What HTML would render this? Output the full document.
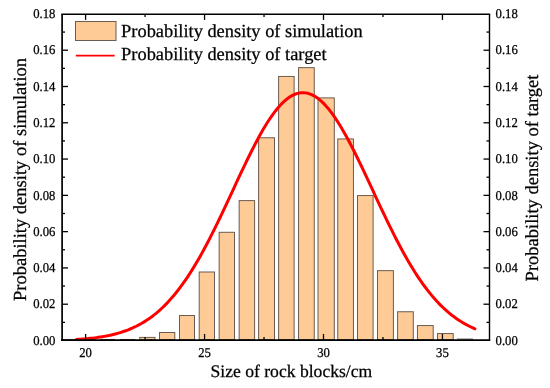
<!DOCTYPE html>
<html><head><meta charset="utf-8"><style>
html,body{margin:0;padding:0;background:#fff;}
svg{display:block;}
text{font-family:"Liberation Serif","Times New Roman",serif;text-rendering:geometricPrecision;fill:#000;stroke:#000;stroke-width:0.25px;}
</style></head><body>
<svg width="550" height="388" viewBox="0 0 550 388">
<rect width="550" height="388" fill="#fff"/>
<g fill="#FECA96" stroke="#6a5c50" stroke-width="1">
<line x1="62.00" y1="339.5" x2="75.51" y2="339.5" stroke-width="1.1"/><line x1="80.26" y1="339.5" x2="95.38" y2="339.5" stroke-width="1.1"/><line x1="100.09" y1="339.5" x2="115.26" y2="339.5" stroke-width="1.1"/><line x1="119.92" y1="339.5" x2="135.13" y2="339.5" stroke-width="1.1"/><line x1="457.00" y1="339.1" x2="472.96" y2="339.1" stroke-width="1.1"/><rect x="139.75" y="337.40" width="15.25" height="2.10"/><rect x="159.50" y="332.50" width="15.30" height="7.00"/><rect x="179.50" y="315.50" width="15.00" height="24.00"/><rect x="199.20" y="272.00" width="15.30" height="67.50"/><rect x="219.15" y="232.30" width="15.35" height="107.20"/><rect x="239.15" y="200.60" width="15.45" height="138.90"/><rect x="258.60" y="137.75" width="15.90" height="201.75"/><rect x="278.60" y="76.45" width="15.51" height="263.05"/><rect x="298.55" y="67.65" width="15.70" height="271.85"/><rect x="318.00" y="97.90" width="16.30" height="241.60"/><rect x="337.75" y="138.95" width="15.70" height="200.55"/><rect x="357.50" y="195.55" width="15.60" height="143.95"/><rect x="377.50" y="270.65" width="15.90" height="68.85"/><rect x="397.60" y="311.75" width="15.70" height="27.75"/><rect x="417.45" y="325.55" width="15.77" height="13.95"/><rect x="437.50" y="333.55" width="15.70" height="5.95"/>
</g>
<path d="M76.40,339.48 L78.39,339.36 L80.39,339.22 L82.38,339.07 L84.37,338.91 L86.36,338.73 L88.36,338.54 L90.35,338.34 L92.34,338.12 L94.33,337.88 L96.33,337.62 L98.32,337.34 L100.31,337.05 L102.30,336.72 L104.30,336.38 L106.29,336.01 L108.28,335.61 L110.27,335.19 L112.27,334.73 L114.26,334.24 L116.25,333.72 L118.24,333.17 L120.24,332.57 L122.23,331.94 L124.22,331.27 L126.21,330.56 L128.21,329.80 L130.20,328.99 L132.19,328.14 L134.18,327.23 L136.18,326.27 L138.17,325.26 L140.16,324.19 L142.15,323.06 L144.15,321.86 L146.14,320.61 L148.13,319.29 L150.12,317.90 L152.12,316.44 L154.11,314.90 L156.10,313.30 L158.09,311.62 L160.09,309.86 L162.08,308.02 L164.07,306.10 L166.06,304.10 L168.06,302.01 L170.05,299.84 L172.04,297.58 L174.03,295.24 L176.03,292.80 L178.02,290.28 L180.01,287.67 L182.00,284.96 L184.00,282.17 L185.99,279.29 L187.98,276.32 L189.97,273.26 L191.97,270.11 L193.96,266.88 L195.95,263.56 L197.94,260.15 L199.94,256.67 L201.93,253.11 L203.92,249.46 L205.91,245.75 L207.91,241.96 L209.90,238.11 L211.89,234.19 L213.88,230.22 L215.88,226.19 L217.87,222.10 L219.86,217.98 L221.85,213.81 L223.84,209.60 L225.84,205.37 L227.83,201.11 L229.82,196.84 L231.81,192.56 L233.81,188.27 L235.80,183.99 L237.79,179.72 L239.78,175.46 L241.78,171.23 L243.77,167.03 L245.76,162.88 L247.75,158.77 L249.75,154.72 L251.74,150.73 L253.73,146.82 L255.72,142.98 L257.72,139.23 L259.71,135.58 L261.70,132.03 L263.69,128.59 L265.69,125.27 L267.68,122.08 L269.67,119.02 L271.66,116.10 L273.66,113.32 L275.65,110.70 L277.64,108.24 L279.63,105.94 L281.63,103.81 L283.62,101.85 L285.61,100.07 L287.61,98.48 L289.60,97.08 L291.59,95.86 L293.58,94.84 L295.58,94.01 L297.57,93.39 L299.56,92.96 L301.55,92.73 L303.55,92.71 L305.54,92.88 L307.53,93.26 L309.52,93.84 L311.51,94.61 L313.51,95.58 L315.50,96.75 L317.49,98.11 L319.49,99.65 L321.48,101.38 L323.47,103.30 L325.46,105.38 L327.46,107.64 L329.45,110.06 L331.44,112.65 L333.43,115.38 L335.42,118.27 L337.42,121.30 L339.41,124.46 L341.40,127.75 L343.39,131.15 L345.39,134.68 L347.38,138.30 L349.37,142.03 L351.37,145.84 L353.36,149.74 L355.35,153.71 L357.34,157.74 L359.34,161.84 L361.33,165.98 L363.32,170.17 L365.31,174.39 L367.30,178.64 L369.30,182.91 L371.29,187.19 L373.28,191.48 L375.27,195.76 L377.27,200.04 L379.26,204.30 L381.25,208.54 L383.25,212.75 L385.24,216.93 L387.23,221.07 L389.22,225.16 L391.22,229.21 L393.21,233.20 L395.20,237.13 L397.19,241.00 L399.19,244.80 L401.18,248.53 L403.17,252.19 L405.16,255.78 L407.15,259.28 L409.15,262.71 L411.14,266.05 L413.13,269.30 L415.12,272.47 L417.12,275.56 L419.11,278.55 L421.10,281.45 L423.10,284.27 L425.09,286.99 L427.08,289.63 L429.07,292.17 L431.07,294.63 L433.06,297.00 L435.05,299.28 L437.04,301.47 L439.03,303.58 L441.03,305.60 L443.02,307.54 L445.01,309.40 L447.00,311.18 L449.00,312.88 L450.99,314.51 L452.98,316.06 L454.98,317.53 L456.97,318.94 L458.96,320.28 L460.95,321.55 L462.95,322.76 L464.94,323.91 L466.93,324.99 L468.92,326.02 L470.91,326.99 L472.91,327.91 L474.90,328.78" fill="none" stroke="#ff0000" stroke-width="3" stroke-linecap="round" stroke-linejoin="round"/>
<g stroke="#000" stroke-width="1.3">
<line x1="62" y1="322.36" x2="65" y2="322.36"/><line x1="489.5" y1="322.36" x2="486.5" y2="322.36"/><line x1="62" y1="304.21" x2="68" y2="304.21"/><line x1="489.5" y1="304.21" x2="483.5" y2="304.21"/><line x1="62" y1="286.07" x2="65" y2="286.07"/><line x1="489.5" y1="286.07" x2="486.5" y2="286.07"/><line x1="62" y1="267.93" x2="68" y2="267.93"/><line x1="489.5" y1="267.93" x2="483.5" y2="267.93"/><line x1="62" y1="249.78" x2="65" y2="249.78"/><line x1="489.5" y1="249.78" x2="486.5" y2="249.78"/><line x1="62" y1="231.64" x2="68" y2="231.64"/><line x1="489.5" y1="231.64" x2="483.5" y2="231.64"/><line x1="62" y1="213.50" x2="65" y2="213.50"/><line x1="489.5" y1="213.50" x2="486.5" y2="213.50"/><line x1="62" y1="195.36" x2="68" y2="195.36"/><line x1="489.5" y1="195.36" x2="483.5" y2="195.36"/><line x1="62" y1="177.21" x2="65" y2="177.21"/><line x1="489.5" y1="177.21" x2="486.5" y2="177.21"/><line x1="62" y1="159.07" x2="68" y2="159.07"/><line x1="489.5" y1="159.07" x2="483.5" y2="159.07"/><line x1="62" y1="140.93" x2="65" y2="140.93"/><line x1="489.5" y1="140.93" x2="486.5" y2="140.93"/><line x1="62" y1="122.78" x2="68" y2="122.78"/><line x1="489.5" y1="122.78" x2="483.5" y2="122.78"/><line x1="62" y1="104.64" x2="65" y2="104.64"/><line x1="489.5" y1="104.64" x2="486.5" y2="104.64"/><line x1="62" y1="86.50" x2="68" y2="86.50"/><line x1="489.5" y1="86.50" x2="483.5" y2="86.50"/><line x1="62" y1="68.36" x2="65" y2="68.36"/><line x1="489.5" y1="68.36" x2="486.5" y2="68.36"/><line x1="62" y1="50.21" x2="68" y2="50.21"/><line x1="489.5" y1="50.21" x2="483.5" y2="50.21"/><line x1="62" y1="32.07" x2="65" y2="32.07"/><line x1="489.5" y1="32.07" x2="486.5" y2="32.07"/><line x1="85.60" y1="340" x2="85.60" y2="334"/><line x1="85.60" y1="14.2" x2="85.60" y2="19.90"/><line x1="145.07" y1="340" x2="145.07" y2="337"/><line x1="145.07" y1="14.2" x2="145.07" y2="16.90"/><line x1="204.55" y1="340" x2="204.55" y2="334"/><line x1="204.55" y1="14.2" x2="204.55" y2="19.90"/><line x1="264.02" y1="340" x2="264.02" y2="337"/><line x1="264.02" y1="14.2" x2="264.02" y2="16.90"/><line x1="323.50" y1="340" x2="323.50" y2="334"/><line x1="323.50" y1="14.2" x2="323.50" y2="19.90"/><line x1="382.98" y1="340" x2="382.98" y2="337"/><line x1="382.98" y1="14.2" x2="382.98" y2="16.90"/><line x1="442.45" y1="340" x2="442.45" y2="334"/><line x1="442.45" y1="14.2" x2="442.45" y2="19.90"/>
</g>
<g stroke="#000" fill="none">
<line x1="62.1" y1="13.9" x2="62.1" y2="340.9" stroke-width="1.7"/>
<line x1="61" y1="340.1" x2="490.2" y2="340.1" stroke-width="1.6"/>
<line x1="61.3" y1="14.25" x2="490.2" y2="14.25" stroke-width="1.4"/>
<line x1="489.5" y1="13.9" x2="489.5" y2="341" stroke-width="1.4"/>
</g>
<g font-size="12.7" style="stroke-width:0.1px">
<text transform="translate(55.4,344.70) scale(1,1.06)" text-anchor="end">0.00</text><text transform="translate(495.6,344.70) scale(1,1.06)">0.00</text><text transform="translate(55.4,308.41) scale(1,1.06)" text-anchor="end">0.02</text><text transform="translate(495.6,308.41) scale(1,1.06)">0.02</text><text transform="translate(55.4,272.13) scale(1,1.06)" text-anchor="end">0.04</text><text transform="translate(495.6,272.13) scale(1,1.06)">0.04</text><text transform="translate(55.4,235.84) scale(1,1.06)" text-anchor="end">0.06</text><text transform="translate(495.6,235.84) scale(1,1.06)">0.06</text><text transform="translate(55.4,199.56) scale(1,1.06)" text-anchor="end">0.08</text><text transform="translate(495.6,199.56) scale(1,1.06)">0.08</text><text transform="translate(55.4,163.27) scale(1,1.06)" text-anchor="end">0.10</text><text transform="translate(495.6,163.27) scale(1,1.06)">0.10</text><text transform="translate(55.4,126.98) scale(1,1.06)" text-anchor="end">0.12</text><text transform="translate(495.6,126.98) scale(1,1.06)">0.12</text><text transform="translate(55.4,90.70) scale(1,1.06)" text-anchor="end">0.14</text><text transform="translate(495.6,90.70) scale(1,1.06)">0.14</text><text transform="translate(55.4,54.41) scale(1,1.06)" text-anchor="end">0.16</text><text transform="translate(495.6,54.41) scale(1,1.06)">0.16</text><text transform="translate(55.4,18.13) scale(1,1.06)" text-anchor="end">0.18</text><text transform="translate(495.6,18.13) scale(1,1.06)">0.18</text><text transform="translate(85.60,357.1) scale(1,1.06)" text-anchor="middle">20</text><text transform="translate(204.55,357.1) scale(1,1.06)" text-anchor="middle">25</text><text transform="translate(323.50,357.1) scale(1,1.06)" text-anchor="middle">30</text><text transform="translate(442.45,357.1) scale(1,1.06)" text-anchor="middle">35</text>
</g>
<rect x="75.5" y="21.5" width="40.5" height="19" fill="#FECA96" stroke="#6a5c50" stroke-width="1"/>
<line x1="75.8" y1="55.7" x2="114.6" y2="55.7" stroke="#ff0000" stroke-width="1.8"/>
<text x="121.1" y="36.8" font-size="18.4">Probability density of simulation</text>
<text x="121.1" y="60.0" font-size="18.4">Probability density of target</text>
<text x="210.5" y="376.5" font-size="17.6">Size of rock blocks/cm</text>
<text transform="translate(26,301) rotate(-90)" font-size="18.5">Probability density of simulation</text>
<text transform="translate(538.2,281.4) rotate(-90)" font-size="18.5">Probability density of target</text>
</svg>
</body></html>
